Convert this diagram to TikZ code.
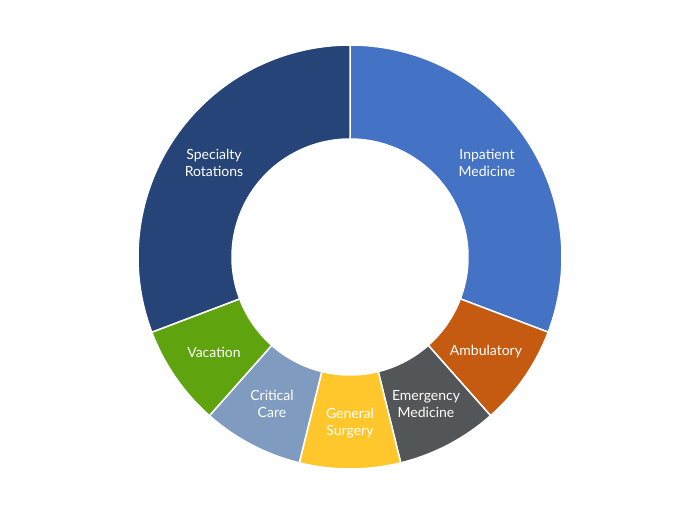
\documentclass[tikz,border=0pt]{standalone}
\usepackage{fontspec}
\setmainfont{Lato}
\definecolor{cInp}{HTML}{4472C4}
\definecolor{cAmb}{HTML}{C55A11}
\definecolor{cEM}{HTML}{525659}
\definecolor{cGS}{HTML}{FFC72C}
\definecolor{cCC}{HTML}{7F9CC0}
\definecolor{cVac}{HTML}{5FA30E}
\definecolor{cSpec}{HTML}{264478}
\newcommand\donutseg[3]{\fill[#3,draw=white,line width=1.5] (#1:212) arc[start angle=#1,end angle=#2,radius=212] -- (#2:118) arc[start angle=#2,end angle=#1,radius=118] -- cycle;}
\begin{document}
\begin{tikzpicture}[x=1pt,y=1pt,lbl/.style={text=white,align=center,font=\fontsize{14}{17}\selectfont}]
\useasboundingbox (-350,-257) rectangle (350,257);
\donutseg{90}{-20.77}{cInp}
\donutseg{-20.77}{-48.46}{cAmb}
\donutseg{-48.46}{-76.15}{cEM}
\donutseg{-76.15}{-103.85}{cGS}
\donutseg{-103.85}{-131.54}{cCC}
\donutseg{-131.54}{-159.23}{cVac}
\donutseg{-159.23}{-270}{cSpec}
\node[lbl] (inp) at (137,94) {Inpatient\\Medicine};
\node[lbl] (spec) at (-136,94) {Specialty\\Rotations};
\node[lbl] (amb) at (136,-95) {Ambulatory};
\node[lbl] (em) at (76,-147) {Emergency\\Medicine};
\node[lbl] (gs) at (0,-166) {General\\Surgery};
\node[lbl] (cc) at (-78,-147) {Critical\\Care};
\node[lbl] (vac) at (-136,-95) {Vacation};
\end{tikzpicture}
\end{document}
